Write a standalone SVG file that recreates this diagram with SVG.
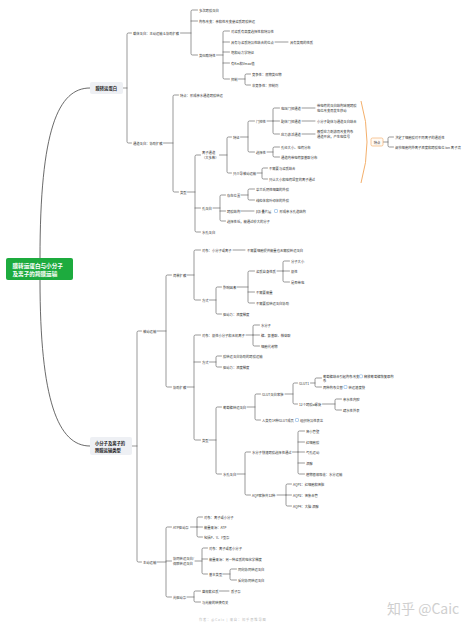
<svg xmlns="http://www.w3.org/2000/svg" width="474" height="624" viewBox="0 0 474 624">
<style>
text{font-family:"Noto Sans CJK SC","Noto Sans",sans-serif;dominant-baseline:central}
.t{font-size:3.3px;fill:#333}
.m{font-size:4.3px;fill:#222;font-weight:bold}
.r{font-size:5.6px;fill:#fff;font-weight:bold}
.c{fill:none;stroke:#555;stroke-width:0.6;stroke-linecap:round;stroke-linejoin:round}
.cv{fill:none;stroke:#444;stroke-width:0.8}
.o{fill:none;stroke:#f2a65a;stroke-width:0.9}
.ic{fill:#fff;stroke:#4a90d9;stroke-width:0.4}
.f{font-size:3.3px;fill:#bbb;letter-spacing:0.8px}
.w{font-size:14px;fill:#cfcfcf}
</style>
<rect width="474" height="624" fill="#fff"/>
<g id="connectors">
<path class="cv" d="M40,258 C40,130 58,88 90,88"/>
<path class="cv" d="M40,280 C40,400 58,446 90,446"/>
<path class="c" d="M123,88H127 M131.5,33H128.5Q127,33 127,34.5V141.5Q127,143 128.5,143H131.5"/>
<path class="c" d="M180.5,33H191 M197.5,10H192.5Q191,10 191,11.5V53.5Q191,55 192.5,55H197.5 M191,21H197.5"/>
<path class="c" d="M216.5,55H223 M229.5,31H224.5Q223,31 223,32.5V77.5Q223,79 224.5,79H229.5 M223,42H229.5 M223,52H229.5 M223,63H229.5"/>
<path class="c" d="M275,42H288"/>
<path class="c" d="M238.5,79H245 M250.5,74H246.5Q245,74 245,75.5V83.5Q245,85 246.5,85H250.5"/>
<path class="c" d="M163.5,143H173 M178.5,95H174.5Q173,95 173,96.5V190.5Q173,192 174.5,192H178.5"/>
<path class="c" d="M187.5,192H195 M200.5,155H196.5Q195,155 195,156.5V230.5Q195,232 196.5,232H200.5 M195,208H200.5"/>
<path class="c" d="M219.5,155H227 M231.5,137H228.5Q227,137 227,138.5V171.5Q227,173 228.5,173H231.5"/>
<path class="c" d="M240.5,137H248 M254.5,121H249.5Q248,121 248,122.5V150.5Q248,152 249.5,152H254.5"/>
<path class="c" d="M267,121H273 M279.5,108H274.5Q273,108 273,109.5V132.5Q273,134 274.5,134H279.5 M273,121H279.5"/>
<path class="c" d="M302,108H315 M302,121H315 M302,134H315"/>
<path class="c" d="M267,152H273 M279.5,147H274.5Q273,147 273,148.5V155.5Q273,157 274.5,157H279.5"/>
<path class="c" d="M257,173H262 M267.5,168H263.5Q262,168 262,169.5V177.5Q262,179 263.5,179H267.5"/>
<path class="c" d="M213,208H220 M225.5,195H221.5Q220,195 220,196.5V219.5Q220,221 221.5,221H225.5 M220,211H225.5"/>
<path class="c" d="M241,195H248 M254.5,189H249.5Q248,189 248,190.5V198.5Q248,200 249.5,200H254.5"/>
<path class="c" d="M241,211H254"/>
<path class="o" d="M361,101 Q373,142 361,183"/>
<path class="c" d="M383,142H388 M393.5,137H389.5Q388,137 388,138.5V145.5Q388,147 389.5,147H393.5"/>
<path class="c" d="M132,446H137 M141.5,331H138.5Q137,331 137,332.5V560.5Q137,562 138.5,562H141.5"/>
<path class="c" d="M157,331H166 M171.5,275H167.5Q166,275 166,276.5V385.5Q166,387 167.5,387H171.5"/>
<path class="c" d="M187,275H194 M200.5,250H195.5Q194,250 194,251.5V298.5Q194,300 195.5,300H200.5"/>
<path class="c" d="M233,250H245"/>
<path class="c" d="M209.5,300H216 M221.5,287H217.5Q216,287 216,288.5V312.5Q216,314 217.5,314H221.5"/>
<path class="c" d="M237,287H248 M254.5,271H249.5Q248,271 248,272.5V301.5Q248,303 249.5,303H254.5 M248,292H254.5"/>
<path class="c" d="M277,271H283 M289.5,261H284.5Q283,261 283,262.5V280.5Q283,282 284.5,282H289.5 M283,271H289.5"/>
<path class="c" d="M187,387H194 M200.5,335H195.5Q194,335 194,336.5V438.5Q194,440 195.5,440H200.5 M194,362H200.5"/>
<path class="c" d="M246,335H253 M259.5,325H254.5Q253,325 253,326.5V344.5Q253,346 254.5,346H259.5 M253,335H259.5"/>
<path class="c" d="M209.5,362H216 M221.5,356H217.5Q216,356 216,357.5V365.5Q216,367 217.5,367H221.5"/>
<path class="c" d="M209.5,440H216 M221.5,407H217.5Q216,407 216,408.5V472.5Q216,474 217.5,474H221.5"/>
<path class="c" d="M247,407H255 M260.5,394H256.5Q255,394 255,395.5V418.5Q255,420 256.5,420H260.5"/>
<path class="c" d="M285,394H293 M297.5,383H294.5Q293,383 293,384.5V402.5Q293,404 294.5,404H297.5"/>
<path class="c" d="M310.5,383H315 M321.5,378H316.5Q315,378 315,379.5V385.5Q315,387 316.5,387H321.5"/>
<path class="c" d="M322.5,404H335 M341.5,399H336.5Q335,399 335,400.5V408.5Q335,410 336.5,410H341.5"/>
<path class="c" d="M237,474H245 M250.5,452H246.5Q245,452 245,453.5V493.5Q245,495 246.5,495H250.5"/>
<path class="c" d="M292.5,452H298 M304.5,431H299.5Q298,431 298,432.5V472.5Q298,474 299.5,474H304.5 M298,442H304.5 M298,452H304.5 M298,463H304.5"/>
<path class="c" d="M277,495H286 M291.5,484H287.5Q286,484 286,485.5V504.5Q286,506 287.5,506H291.5 M286,495H291.5"/>
<path class="c" d="M157,562H166 M171.5,527H167.5Q166,527 166,528.5V595.5Q166,597 167.5,597H171.5 M166,561H171.5"/>
<path class="c" d="M190.5,527H197 M202.5,517H198.5Q197,517 197,518.5V535.5Q197,537 198.5,537H202.5 M197,527H202.5"/>
<path class="c" d="M195,561H202 M207.5,548H203.5Q202,548 202,549.5V572.5Q202,574 203.5,574H207.5 M202,559H207.5"/>
<path class="c" d="M223,574H230 M236.5,569H231.5Q230,569 230,570.5V578.5Q230,580 231.5,580H236.5"/>
<path class="c" d="M187,597H194 M200.5,591H195.5Q194,591 194,592.5V600.5Q194,602 195.5,602H200.5"/>
<path class="c" d="M219.5,591H229"/>
</g>
<g id="root"><rect x="6" y="258" width="67" height="22" rx="2" fill="#1dab3e"/><text class="r" x="12.5" y="265.5">膜转运蛋白与小分子</text><text class="r" x="12.5" y="273.5">及离子的跨膜运输</text></g>
<g id="n-mzy"><rect x="90" y="82" width="33" height="12" rx="2" fill="#eef0f4"/><text class="m" x="95.5" y="88">膜转运蛋白</text></g>
<g id="n-zt"><text class="t" x="133" y="33">载体蛋白：主动运输＆协助扩散</text></g>
<g id="n-zt1"><text class="t" x="199" y="10">多次跨膜蛋白</text></g>
<g id="n-zt2"><text class="t" x="199" y="21">构象改变：亲和性改变使溶质跨膜转运</text></g>
<g id="n-zt3"><text class="t" x="199" y="55">类似酶特性</text></g>
<g id="n-zt31"><text class="t" x="231" y="31">对溶质有高度选择性和特异性</text></g>
<g id="n-zt32"><text class="t" x="231" y="42">具有与溶质特异性结合的位点</text><text class="t" x="290" y="42">具有类酶的性质</text></g>
<g id="n-zt33"><text class="t" x="231" y="52">饱和动力学特征</text></g>
<g id="n-zt34"><text class="t" x="231" y="63">有Km和Vmax值</text></g>
<g id="n-zt35"><text class="t" x="231" y="79">抑制</text></g>
<g id="n-zt351"><text class="t" x="252" y="74">竞争性：底物类似物</text></g>
<g id="n-zt352"><text class="t" x="252" y="85">非竞争性：抑制剂</text></g>
<g id="n-td"><text class="t" x="133" y="143">通道蛋白：协助扩散</text></g>
<g id="n-td1"><text class="t" x="180" y="95">特点：形成亲水通道跨膜转运</text></g>
<g id="n-td2"><text class="t" x="180" y="192">类型</text></g>
<g id="n-lz"><text class="t" x="202" y="152.5">离子通道</text><text class="t" x="202" y="157.8">（大多数）</text></g>
<g id="n-lz1"><text class="t" x="233" y="137">特征</text></g>
<g id="n-mk"><text class="t" x="256" y="121">门控性</text></g>
<g id="n-dy"><text class="t" x="281" y="108">电压门控通道</text><text class="t" x="317" y="105.5">带电荷的蛋白结构域随跨膜</text><text class="t" x="317" y="110.5">电位改变而发生移动</text></g>
<g id="n-pt"><text class="t" x="281" y="121">配体门控通道</text><text class="t" x="317" y="121">小分子配体与通道蛋白结合</text></g>
<g id="n-yl"><text class="t" x="281" y="134">应力激活通道</text><text class="t" x="317" y="131.5">感受应力刺激而改变构象</text><text class="t" x="317" y="136.5">通道开启，产生电信号</text></g>
<g id="n-xz"><text class="t" x="256" y="152">选择性</text></g>
<g id="n-xz1"><text class="t" x="281" y="147">孔径大小、电荷分布</text></g>
<g id="n-xz2"><text class="t" x="281" y="157">通道内带电荷氨基酸分布</text></g>
<g id="n-lz2"><text class="t" x="233" y="173">只介导被动运输</text></g>
<g id="n-lz21"><text class="t" x="269" y="168">不需要与溶质结合</text></g>
<g id="n-lz22"><text class="t" x="269" y="179">只让大小和电荷适宜的离子通过</text></g>
<g id="n-kd"><text class="t" x="202" y="208">孔蛋白</text></g>
<g id="n-kd1"><text class="t" x="227" y="195">存在位置</text></g>
<g id="n-kd11"><text class="t" x="256" y="189">革兰氏阴性细菌的外膜</text></g>
<g id="n-kd12"><text class="t" x="256" y="200">线粒体和叶绿体的外膜</text></g>
<g id="n-kd2"><text class="t" x="227" y="211">跨膜结构</text><text class="t" x="256" y="211">β折叠片层</text><rect class="ic" x="274.5" y="209.5" width="3" height="3" rx="0.5"/><text class="t" x="279.5" y="211">形成亲水孔道结构</text></g>
<g id="n-kd3"><text class="t" x="227" y="221">选择性低，能通过较大的分子</text></g>
<g id="n-sk"><text class="t" x="202" y="232">水孔蛋白</text></g>
<g id="n-tedian"><rect x="371" y="138" width="12" height="8" rx="1.5" fill="#fffaf4" stroke="#f2a65a" stroke-width="0.6"/><text class="t" x="373.7" y="142">特点</text></g>
<g id="n-td-a"><text class="t" x="395" y="137">决定了细胞膜对不同离子的通透性</text></g>
<g id="n-td-b"><text class="t" x="395" y="147">调节细胞内外离子浓度和跨膜电位 ion 离子流</text></g>
<g id="n-xfz"><rect x="90" y="437" width="42" height="18" rx="2" fill="#eef0f4"/><text class="m" x="95" y="442.5">小分子及离子的</text><text class="m" x="95" y="449.5">跨膜运输类型</text></g>
<g id="n-bd"><text class="t" x="143" y="331">被动运输</text></g>
<g id="n-jd"><text class="t" x="173" y="275">简单扩散</text></g>
<g id="n-jd1"><text class="t" x="202" y="250">对象：小分子或离子</text><text class="t" x="247" y="250">不需要细胞提供能量也无需膜转运蛋白</text></g>
<g id="n-jd2"><text class="t" x="202" y="300">方式</text></g>
<g id="n-yx"><text class="t" x="223" y="287">影响因素</text></g>
<g id="n-yx1"><text class="t" x="256" y="271">溶质自身性质</text></g>
<g id="n-yx11"><text class="t" x="291" y="261">分子大小</text></g>
<g id="n-yx12"><text class="t" x="291" y="271">极性</text></g>
<g id="n-yx13"><text class="t" x="291" y="282">是否带电</text></g>
<g id="n-yx2"><text class="t" x="256" y="292">不需要能量</text></g>
<g id="n-yx3"><text class="t" x="256" y="303">不需要膜转运蛋白协助</text></g>
<g id="n-jd3"><text class="t" x="223" y="314">驱动力：浓度梯度</text></g>
<g id="n-xz-d"><text class="t" x="173" y="387">协助扩散</text></g>
<g id="n-xd1"><text class="t" x="202" y="335">对象：极性小分子和无机离子</text></g>
<g id="n-xd11"><text class="t" x="261" y="325">水分子</text></g>
<g id="n-xd12"><text class="t" x="261" y="335">糖、氨基酸、核苷酸</text></g>
<g id="n-xd13"><text class="t" x="261" y="346">细胞代谢物</text></g>
<g id="n-xd2"><text class="t" x="202" y="362">方式</text></g>
<g id="n-xd21"><text class="t" x="223" y="356">膜转运蛋白协助的跨膜运输</text></g>
<g id="n-xd22"><text class="t" x="223" y="367">驱动力：浓度梯度</text></g>
<g id="n-xd3"><text class="t" x="202" y="440">类型</text></g>
<g id="n-glu"><text class="t" x="223" y="407">葡萄糖转运蛋白</text></g>
<g id="n-glut"><text class="t" x="262" y="394">GLUT蛋白家族</text></g>
<g id="n-glut1"><text class="t" x="299" y="383">GLUT1</text></g>
<g id="n-g1a"><text class="t" x="323" y="376.3">葡萄糖结合引起构象改变</text><rect class="ic" x="359.5" y="374.8" width="3" height="3" rx="0.5"/><text class="t" x="364" y="376.3">释放葡萄糖恢复原构</text><text class="t" x="323" y="380.8">象</text></g>
<g id="n-g1b"><text class="t" x="323" y="387">两种构象交替</text><rect class="ic" x="344" y="385.5" width="3" height="3" rx="0.5"/><text class="t" x="348.5" y="387">转运速度快</text></g>
<g id="n-g12"><text class="t" x="299" y="404">12个跨膜α螺旋</text></g>
<g id="n-g121"><text class="t" x="343" y="399">亲水性内腔</text></g>
<g id="n-g122"><text class="t" x="343" y="410">疏水性外表</text></g>
<g id="n-g14"><text class="t" x="262" y="420">人类有14种GLUT成员</text><rect class="ic" x="295.5" y="418.5" width="3" height="3" rx="0.5"/><text class="t" x="300" y="420">组织特异性表达</text></g>
<g id="n-aqp"><text class="t" x="223" y="474">水孔蛋白</text></g>
<g id="n-aqp1"><text class="t" x="252" y="452">水分子快速跨膜选择性通过</text></g>
<g id="n-aqp11"><text class="t" x="306" y="431">肾小管壁</text></g>
<g id="n-aqp12"><text class="t" x="306" y="442">红细胞膜</text></g>
<g id="n-aqp13"><text class="t" x="306" y="452">气孔运动</text></g>
<g id="n-aqp14"><text class="t" x="306" y="463">泪腺</text></g>
<g id="n-aqp15"><text class="t" x="306" y="474">植物根部吸收：水分运输</text></g>
<g id="n-aqp2"><text class="t" x="252" y="495">AQP家族共13种</text></g>
<g id="n-aqp21"><text class="t" x="293" y="484">AQP1：红细胞和肾脏</text></g>
<g id="n-aqp22"><text class="t" x="293" y="495">AQP2：肾集合管</text></g>
<g id="n-aqp23"><text class="t" x="293" y="506">AQP4：大脑 泪腺</text></g>
<g id="n-zd"><text class="t" x="143" y="562">主动运输</text></g>
<g id="n-atp"><text class="t" x="173" y="527">ATP驱动泵</text></g>
<g id="n-atp1"><text class="t" x="204" y="517">对象：离子或小分子</text></g>
<g id="n-atp2"><text class="t" x="204" y="527">能量来源：ATP</text></g>
<g id="n-atp3"><text class="t" x="204" y="537">包括P、V、F型泵</text></g>
<g id="n-xt"><text class="t" x="173" y="558">协同转运蛋白/</text><text class="t" x="173" y="563.5">偶联转运蛋白</text></g>
<g id="n-xt1"><text class="t" x="209" y="548">对象：离子或者小分子</text></g>
<g id="n-xt2"><text class="t" x="209" y="559">能量来源：另一种溶质的电化学梯度</text></g>
<g id="n-xt3"><text class="t" x="209" y="574">基本类型</text></g>
<g id="n-xt31"><text class="t" x="238" y="569">同向协同转运蛋白</text></g>
<g id="n-xt32"><text class="t" x="238" y="580">反向协同转运蛋白</text></g>
<g id="n-gq"><text class="t" x="173" y="597">光驱动泵</text></g>
<g id="n-gq1"><text class="t" x="202" y="591">菌视紫红质</text><text class="t" x="231" y="591">质子泵</text></g>
<g id="n-gq2"><text class="t" x="202" y="602">与光能的转换有关</text></g>
<text class="f" x="199" y="619">作者：@Caic | 来自：知乎思维导图</text>
<text class="w" x="387" y="608">知乎 @Caic</text>
</svg>
